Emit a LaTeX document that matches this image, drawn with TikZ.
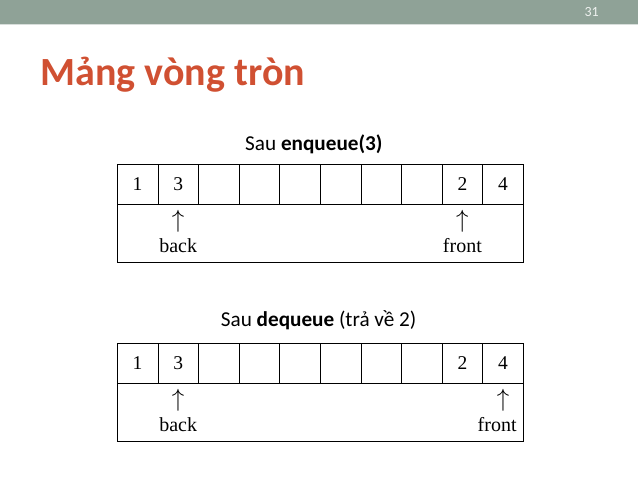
\documentclass[tikz,border=0pt]{standalone}
\usepackage{fontspec}
\setmainfont{Liberation Serif}
\newfontfamily\slidefont{Carlito}
\usetikzlibrary{positioning}
\definecolor{barcol}{RGB}{143,162,151}
\definecolor{titlecol}{RGB}{208,80,50}
\tikzset{cellbox/.style = {draw, line width=0.8pt, anchor=north west, inner sep=0pt, outer sep=0pt,
    minimum width=40.6pt, minimum height=40pt, font=\fontsize{19.5}{19.5}\selectfont},
  lowbox/.style = {draw, line width=0.8pt, anchor=north west, inner sep=0pt, outer sep=0pt,
    minimum width=406pt, minimum height=58pt},
  ptrarrow/.style = {inner sep=0pt, font=\fontsize{23}{23}\selectfont},
  ptrname/.style = {inner sep=0pt, anchor=base, font=\fontsize{20}{20}\selectfont},
  caption/.style = {inner sep=0pt, anchor=base west, font=\slidefont\fontsize{21.2}{21.2}\selectfont}}

\begin{document}
\begin{tikzpicture}[x=1pt, y=-1pt]
    \useasboundingbox (0,0) rectangle (638,478);
    \fill[barcol] (0,0) rectangle (638,24);
    \fill[barcol!35] (0,24) rectangle (638,25.5);
    \node[inner sep=0pt, anchor=base east, text=white!85!barcol, font=\slidefont\fontsize{14}{14}\selectfont] (pagenum) at (599,17) {31};
    \node[inner sep=0pt, anchor=base west, text=titlecol, font=\slidefont\bfseries\fontsize{40}{40}\selectfont] (title) at (40.5,85.7) {Mảng vòng tròn};

    % after enqueue
    \node[caption] (capa) at (245,150.7) {Sau \textbf{enqueue(3)}};
    \foreach \v [count=\i] in {1,3,{},{},{},{},{},{},2,4}
        \node[cellbox] (a\i) at ({117.3+40.6*(\i-1)},164) {\v};
    \node[lowbox] (abox) at (a1.south west) {};
    \node[ptrarrow] (abackarr) at ([yshift=-17pt]a2.south) {$\uparrow$};
    \node[ptrname] (aback) at ([yshift=-48.5pt]a2.south) {back};
    \node[ptrarrow] (afrontarr) at ([yshift=-17pt]a9.south) {$\uparrow$};
    \node[ptrname] (afront) at ([yshift=-48.5pt]a9.south) {front};

    % after dequeue
    \node[caption] (capb) at (220.7,326.7) {Sau \textbf{dequeue} (trả về 2)};
    \foreach \v [count=\i] in {1,3,{},{},{},{},{},{},2,4}
        \node[cellbox] (b\i) at ({117.3+40.6*(\i-1)},343.3) {\v};
    \node[lowbox] (bbox) at (b1.south west) {};
    \node[ptrarrow] (bbackarr) at ([yshift=-17pt]b2.south) {$\uparrow$};
    \node[ptrname] (bback) at ([yshift=-48.5pt]b2.south) {back};
    \node[ptrarrow] (bfrontarr) at ([yshift=-17pt]b10.south) {$\uparrow$};
    \node[ptrname, anchor=base east] (bfront) at ([yshift=-48.5pt,xshift=-6.5pt]b10.south east) {front};
\end{tikzpicture}
\end{document}
